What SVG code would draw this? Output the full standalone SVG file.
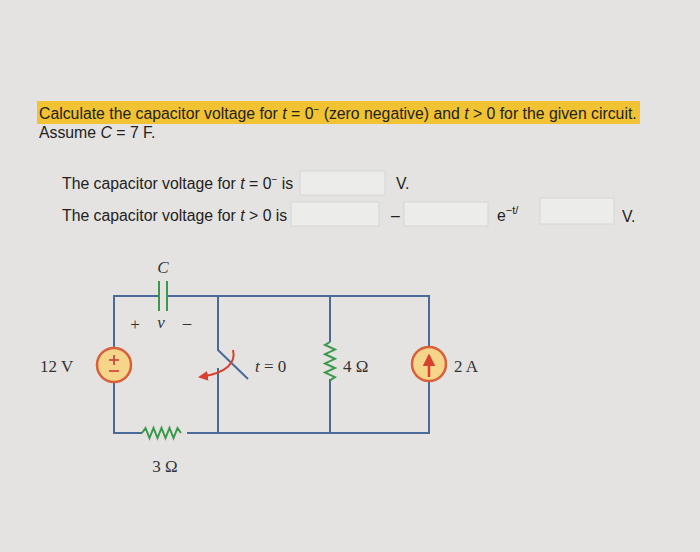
<svg xmlns="http://www.w3.org/2000/svg" width="700" height="552" viewBox="0 0 700 552">
<defs>
<style>
.t{font-family:"Liberation Sans",Arial,sans-serif;font-size:15.8px;fill:#222}
.s{font-family:"Liberation Serif","Times New Roman",serif;font-size:17px;fill:#333}
.w{stroke:#4a6a9a;stroke-width:2;fill:none}
.g{stroke:#3a9a4a;stroke-width:2;fill:none}
.box{fill:#ececea;stroke:#d6d6d4;stroke-width:1}
.src{fill:#f5d58a;stroke:#d9603a;stroke-width:2.5}
</style>
<marker id="ar" viewBox="0 0 10 10" refX="8" refY="5" markerWidth="5" markerHeight="5" orient="auto"><path d="M0,0L10,5L0,10z" fill="#d94030"/></marker>
</defs>
<rect width="700" height="552" fill="#e4e3e1"/>
<rect x="37" y="101" width="603" height="23" fill="#f1c232"/>
<text class="t" x="39" y="119">Calculate the capacitor voltage for <tspan font-style="italic">t</tspan> = 0<tspan font-size="10" dy="-6">−</tspan><tspan dy="6"> (zero negative) and </tspan><tspan font-style="italic">t</tspan> &gt; 0 for the given circuit.</text>
<text class="t" x="39" y="138">Assume <tspan font-style="italic">C</tspan> = 7 F.</text>
<text class="t" x="62" y="189">The capacitor voltage for <tspan font-style="italic">t</tspan> = 0<tspan font-size="10" dy="-6">−</tspan><tspan dy="6"> is</tspan></text>
<rect class="box" x="300" y="171" width="85" height="24"/>
<text class="t" x="396" y="189">V.</text>
<text class="t" x="62" y="221">The capacitor voltage for <tspan font-style="italic">t</tspan> &gt; 0 is</text>
<rect class="box" x="291" y="202" width="88" height="24"/>
<text class="t" x="391" y="221">–</text>
<rect class="box" x="404" y="202" width="84" height="24"/>
<text class="t" x="497" y="221">e<tspan font-size="11" dy="-7">−t/</tspan></text>
<rect class="box" x="540" y="198" width="74" height="26"/>
<text class="t" x="622" y="222">V.</text>
<g id="wires">
<path class="w" d="M114,348V296H158M168,296H429V347M429,381V433H187M142,433H114V382"/>
<path class="w" d="M218,296V350L248,379M218,368V433M330,296V342M330,379V433"/>
</g>
<g id="cap"><path class="g" d="M159,281V311M167,281V311"/>
<text class="s" x="163" y="273" text-anchor="middle" font-style="italic" font-size="20">C</text>
<text class="s" x="135" y="330" text-anchor="middle" font-size="15">+</text>
<text class="s" x="161" y="328" text-anchor="middle" font-style="italic" font-size="14">v</text>
<text class="s" x="187" y="328" text-anchor="middle" font-size="15">–</text></g>
<g id="vs"><circle class="src" cx="114" cy="365" r="17"/>
<path d="M109,360h10M114,355v10M109,371h10" stroke="#c33" stroke-width="1.5"/>
<text class="s" x="40" y="372">12 V</text></g>
<g id="switch"><path d="M233,350C236,362 228,373 200,377" stroke="#d94030" stroke-width="2" fill="none" marker-end="url(#ar)"/>
<text class="s" x="255" y="372"><tspan font-style="italic">t</tspan> = 0</text></g>
<g id="r4"><path class="g" d="M330,342l-5,3l10,4.6l-10,4.6l10,4.6l-10,4.6l10,4.6l-10,4.6l10,4.6l-5,3.2"/>
<text class="s" x="343" y="372">4 Ω</text></g>
<g id="cs"><circle class="src" cx="429" cy="364" r="17"/>
<path d="M429,377V356" stroke="#d94030" stroke-width="2.5" marker-end="url(#ar)"/>
<text class="s" x="454" y="372">2 A</text></g>
<g id="r3"><path class="g" d="M142,433l3.5,-5l4,10l4,-10l4,10l4,-10l4,10l4,-10l4,10l4,-10l3.5,5"/>
<text class="s" x="165" y="472" text-anchor="middle">3 Ω</text></g>
</svg>
